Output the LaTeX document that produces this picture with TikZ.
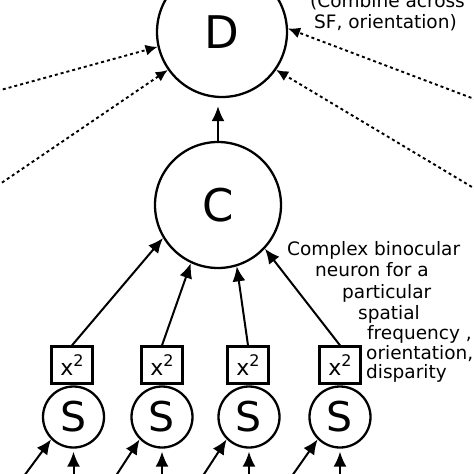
\documentclass[tikz,border=0pt]{standalone}
\usepackage{fontspec}
\setmainfont{DejaVu Sans}
\usetikzlibrary{arrows.meta}
\begin{document}
\begin{tikzpicture}[x=1pt,y=-1pt]
\tikzset{
 neuron/.style={circle, draw, line width=2.3pt, inner sep=0pt},
 bigletter/.style={font=\fontsize{45}{45}\selectfont},
 sletter/.style={font=\fontsize{41}{41}\selectfont},
 sqbox/.style={draw, line width=2.3pt, minimum width=41pt, minimum height=37pt, inner sep=0pt, font=\fontsize{22}{22}\selectfont},
 feed/.style={-{Latex[length=15pt,width=13pt]}, line width=2pt},
 lateral/.style={-{Latex[length=12pt,width=11pt]}, line width=1.9pt, dash pattern=on 3pt off 3pt},
 lbl/.style={anchor=mid west, inner sep=0pt, font=\fontsize{18.5}{21}\selectfont},
}
\clip (0,0) rectangle (474,474);
\fill[white] (0,0) rectangle (474,474);
% main nodes
\node[neuron, bigletter, minimum size=130pt] (D) at (222,32) {D};
\node[neuron, bigletter, minimum size=126pt] (C) at (218,205) {C};
\foreach \i/\x/\bx in {1/73.5/72, 2/162/162, 3/249/248, 4/340/340} {
  \node[neuron, sletter, minimum size=61pt] (S\i) at (\x,417) {S};
  \node[sqbox] (B\i) at (\bx,365) {x\raisebox{0.42em}{\fontsize{16}{16}\selectfont 2}};
}
% C -> D
\draw[feed, shorten >=8pt] (C.north) -- (C.north |- D.south);
% boxes -> C
\draw[feed] (B1.north) -- (C.211);
\draw[feed] (B2.north) -- (C.245);
\draw[feed] (B3.north) -- (C.287);
\draw[feed] (B4.north) -- (C.317);
% inputs to S
\foreach \i/\dx/\vx in {1/22.5/73.5, 2/114.5/162, 3/201.5/249, 4/290.5/340} {
  \coordinate (ia\i) at (\dx,478);
  \coordinate (ib\i) at (\vx,480);
  \draw[feed] (ia\i) -- (S\i.225);
  \draw[feed, shorten >=3pt] (ib\i) -- (S\i.south);
}
% lateral dotted inputs to D
\coordinate (L1) at (-3,91);
\coordinate (L2) at (-3,186);
\coordinate (R1) at (477,100);
\coordinate (R2) at (477,190);
\draw[lateral] (L1) -- (D.193);
\draw[lateral] (L2) -- (D.215);
\draw[lateral] (R1) -- (D.3.5);
\draw[lateral] (R2) -- (D.325);
% labels
\node[lbl] (t1) at (310,5) {(Combine across};
\node[lbl] (t2) at (314,26) {SF, orientation)};
\node[lbl] (c1) at (287,252.5) {Complex binocular};
\node[lbl] (c2) at (315,274) {neuron for a};
\node[lbl] (c3) at (342,296) {particular};
\node[lbl] (c4) at (358,317) {spatial};
\node[lbl] (c5) at (367,337) {frequency ,};
\node[lbl] (c6) at (366,357) {orientation,};
\node[lbl] (c7) at (366,376) {disparity};
\end{tikzpicture}
\end{document}
